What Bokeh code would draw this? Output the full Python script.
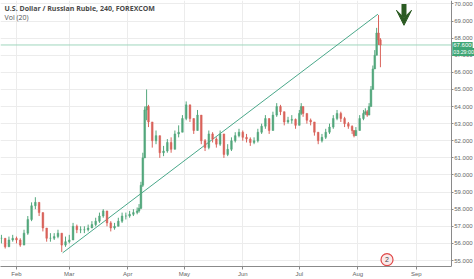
from datetime import datetime, timedelta
from bokeh.plotting import figure
from bokeh.models import (ColumnDataSource, Range1d, DatetimeTickFormatter, MonthsTicker,
                          FixedTicker, Span, Label, Arrow, VeeHead, BoxAnnotation)
from bokeh.embed import file_html
from bokeh.resources import INLINE

# ---------------- data ----------------
dates = ["2018-01-24", "2018-01-26", "2018-01-28", "2018-01-30", "2018-02-01", "2018-02-03",
         "2018-02-05", "2018-02-07", "2018-02-09", "2018-02-11", "2018-02-13", "2018-02-15",
         "2018-02-17", "2018-02-19", "2018-02-21", "2018-02-23", "2018-02-25", "2018-02-27",
         "2018-03-01", "2018-03-03", "2018-03-05", "2018-03-07", "2018-03-09", "2018-03-11",
         "2018-03-13", "2018-03-15", "2018-03-17", "2018-03-19", "2018-03-21", "2018-03-23",
         "2018-03-25", "2018-03-27", "2018-03-29", "2018-03-31", "2018-04-02", "2018-04-04",
         "2018-04-06", "2018-04-07", "2018-04-08", "2018-04-09", "2018-04-10", "2018-04-11",
         "2018-04-12", "2018-04-14", "2018-04-16", "2018-04-18", "2018-04-20", "2018-04-22",
         "2018-04-24", "2018-04-26", "2018-04-28", "2018-04-30", "2018-05-02", "2018-05-04",
         "2018-05-06", "2018-05-08", "2018-05-10", "2018-05-12", "2018-05-14", "2018-05-16",
         "2018-05-18", "2018-05-20", "2018-05-22", "2018-05-24", "2018-05-26", "2018-05-28",
         "2018-05-30", "2018-06-01", "2018-06-03", "2018-06-05", "2018-06-07", "2018-06-09",
         "2018-06-11", "2018-06-13", "2018-06-15", "2018-06-17", "2018-06-19", "2018-06-21",
         "2018-06-23", "2018-06-25", "2018-06-27", "2018-06-29", "2018-07-01", "2018-07-02",
         "2018-07-03", "2018-07-05", "2018-07-07", "2018-07-09", "2018-07-11", "2018-07-13",
         "2018-07-15", "2018-07-17", "2018-07-19", "2018-07-21", "2018-07-23", "2018-07-25",
         "2018-07-27", "2018-07-29", "2018-07-30", "2018-07-31", "2018-08-02", "2018-08-04",
         "2018-08-05", "2018-08-06", "2018-08-07", "2018-08-08", "2018-08-09", "2018-08-10",
         "2018-08-11", "2018-08-12", "2018-08-13"]

closes = [56.3, 55.8, 56.2, 56.3, 56.2, 55.9, 56.6, 57.4, 58.2, 58.4, 57.8, 56.9,
          56.3, 56.3, 56.4, 56.6, 55.9, 56.1, 56.2, 57.0, 56.8, 56.8, 56.8, 56.9,
          57.1, 57.3, 57.6, 57.9, 57.2, 56.9, 57.0, 57.3, 57.6, 57.6, 57.7, 57.8,
          57.9, 58.05, 59.4, 61.0, 63.8, 64.0, 63.1, 62.0, 62.3, 61.3, 61.4, 61.9,
          61.5, 62.4, 62.5, 63.3, 64.1, 63.3, 62.6, 63.5, 62.0, 61.6, 62.4, 62.1,
          61.8, 62.4, 61.2, 61.5, 62.0, 62.3, 62.5, 62.2, 62.1, 61.9, 62.0, 62.5,
          62.85, 63.3, 62.6, 63.5, 64.0, 63.7, 63.1, 63.2, 63.25, 62.9, 63.6, 64.0,
          63.6, 63.2, 63.1, 62.5, 62.0, 62.2, 62.5, 62.8, 63.3, 63.6, 63.3, 63.0,
          62.85, 62.6, 62.3, 62.6, 63.3, 63.6, 63.7, 63.5, 64.0, 65.0, 66.2, 67.0,
          68.3, 67.9, 67.6]

highs = [56.5, 56.3, 56.4, 56.5, 56.4, 56.3, 56.8, 57.6, 58.4, 58.7, 58.3, 57.8,
         56.9, 56.6, 56.6, 56.8, 56.6, 56.4, 56.5, 57.2, 57.1, 57.0, 57.0, 57.1,
         57.3, 57.5, 57.8, 58.0, 57.9, 57.3, 57.2, 57.5, 57.8, 57.8, 57.9, 58.0,
         58.1, 58.3, 59.6, 61.3, 64.0, 65.0, 64.1, 63.0, 62.6, 62.3, 61.7, 62.1,
         62.2, 62.6, 62.9, 63.5, 64.3, 64.1, 63.3, 63.8, 63.5, 62.1, 62.6, 62.5,
         62.2, 62.6, 62.4, 61.8, 62.2, 62.5, 62.7, 62.6, 62.4, 62.2, 62.2, 62.7,
         63.0, 63.5, 63.3, 63.7, 64.2, 64.1, 63.7, 63.4, 63.5, 63.3, 63.8, 64.2,
         64.0, 63.6, 63.3, 63.1, 62.5, 62.4, 62.7, 63.0, 63.5, 63.8, 63.7, 63.4,
         63.1, 62.9, 62.6, 62.8, 63.5, 63.8, 63.9, 63.8, 64.2, 65.2, 66.4, 67.3,
         68.6, 69.35, 68.0]

lows = [56.0, 55.7, 55.8, 56.1, 56.0, 55.8, 55.9, 56.5, 57.3, 58.0, 57.6, 56.7,
        56.1, 56.1, 56.2, 56.3, 55.5, 55.8, 56.0, 56.2, 56.6, 56.6, 56.6, 56.7,
        56.9, 57.0, 57.2, 57.5, 57.0, 56.7, 56.8, 57.0, 57.2, 57.4, 57.5, 57.6,
        57.7, 57.8, 58.0, 59.3, 61.0, 63.2, 62.8, 61.6, 61.8, 61.0, 61.1, 61.3,
        61.3, 61.5, 62.2, 62.5, 63.2, 63.1, 62.4, 62.6, 61.8, 61.4, 61.5, 61.9,
        61.6, 61.7, 61.0, 61.1, 61.4, 61.9, 62.2, 62.0, 61.9, 61.7, 61.8, 61.9,
        62.4, 62.7, 62.4, 62.6, 63.4, 63.5, 62.9, 63.0, 63.0, 62.7, 62.9, 63.5,
        63.4, 63.0, 62.9, 62.3, 61.8, 61.9, 62.1, 62.4, 62.7, 63.2, 63.1, 62.8,
        62.7, 62.4, 62.2, 62.3, 62.6, 63.2, 63.5, 63.4, 63.5, 64.0, 65.0, 66.2,
        67.0, 67.6, 66.3]

trend_dates = ["2018-02-25 12:00", "2018-08-11 16:00"]
trend_prices = [55.45, 69.4]

last_price = 67.6
last_price_text = "67.600"
countdown_text = "03:29:00"

y_ticks = [55, 56, 57, 58, 59, 60, 61, 62, 63, 64, 65, 66, 67, 68, 69, 70]
y_tick_labels = ["55.000", "56.000", "57.000", "58.000", "59.000", "60.000", "61.000", "62.000",
                 "63.000", "64.000", "65.000", "66.000", "67.000", "68.000", "69.000", "70.000"]

arrow_date = "2018-08-25 12:00"
arrow_from = 70.0
arrow_to = 68.75

event_dates = ["2018-08-16 12:00"]
event_prices = [55.05]
event_labels = ["2"]

title_text = "U.S. Dollar / Russian Ruble, 240, FOREXCOM"
vol_text = "Vol (20)"

# ---------------- build ----------------
def ts(s):
    return datetime.fromisoformat(s)

def ms(d):
    return (d - datetime(1970, 1, 1)).total_seconds() * 1000.0

dts = [ts(d) for d in dates]
opens = [closes[0]] + closes[:-1]
UP, DOWN = "#53a77c", "#d9625a"
colors = [UP if c >= o else DOWN for o, c in zip(opens, closes)]
tops = [max(o, c) for o, c in zip(opens, closes)]
bots = [min(o, c) for o, c in zip(opens, closes)]
src = ColumnDataSource(dict(x=dts, hi=highs, lo=lows, top=tops, bot=bots, color=colors))

x_start = datetime(2018, 1, 23, 12, 30)
x_end = datetime(2018, 10, 1, 21, 30)
axis_at = datetime(2018, 9, 19, 14, 0)   # where the price scale begins

p = figure(width=474, height=279, x_axis_type="datetime", y_axis_location="right",
           toolbar_location=None, output_backend="svg",
           x_range=Range1d(x_start, x_end), y_range=Range1d(54.65, 70.2),
           min_border_left=0, min_border_top=0, min_border_right=0, min_border_bottom=0)
p.background_fill_color = "white"
p.border_fill_color = "white"
p.outline_line_color = None

FONT = "Liberation Sans"
# y axis (price scale)
p.yaxis.fixed_location = ms(axis_at)
p.yaxis.ticker = FixedTicker(ticks=y_ticks)
p.yaxis.major_label_overrides = {t: l for t, l in zip(y_ticks, y_tick_labels)}
p.yaxis.major_label_text_font_size = "6px"
p.yaxis.major_label_text_color = "#666666"
p.yaxis.major_label_text_font = FONT
p.yaxis.major_label_standoff = 1
p.yaxis.major_tick_out = 2
p.yaxis.major_tick_in = 0
p.yaxis.minor_tick_out = 0
p.yaxis.minor_tick_in = 0
p.yaxis.axis_line_color = "#8a8a8a"
p.yaxis.major_tick_line_color = "#8a8a8a"
# x axis
p.xaxis.ticker = MonthsTicker(months=list(range(12)))
p.xaxis.formatter = DatetimeTickFormatter(months="%b", days="%b")
p.xaxis.bounds = (ms(x_start), ms(axis_at))
p.xaxis.major_label_text_font_size = "6px"
p.xaxis.major_label_text_color = "#666666"
p.xaxis.major_label_text_font = FONT
p.xaxis.major_label_standoff = 1
p.xaxis.major_tick_out = 3
p.xaxis.major_tick_in = 0
p.xaxis.minor_tick_out = 0
p.xaxis.minor_tick_in = 0
p.xaxis.axis_line_color = "#8a8a8a"
p.xaxis.major_tick_line_color = "#8a8a8a"

p.xgrid.grid_line_color = "#ececec"
p.ygrid.grid_line_color = "#ececec"

# current price line
p.add_layout(Span(location=last_price, dimension="width", line_color="#9fd6bd",
                  line_width=1, level="underlay"))

# trend line
p.line([ts(d) for d in trend_dates], trend_prices, line_color="#4aa88a", line_width=1)

# candles
day_ms = 24 * 3600 * 1000
p.segment(x0="x", y0="hi", x1="x", y1="lo", color="color", line_width=1, source=src)
p.vbar(x="x", width=day_ms * 0.9, top="top", bottom="bot", fill_color="color",
       line_color="color", line_width=0.5, source=src)

# blank the price-scale strip
p.add_layout(BoxAnnotation(left=ms(axis_at), fill_color="white", fill_alpha=1.0,
                           line_alpha=0, level="glyph"))

# arrow annotation
p.add_layout(Arrow(x_start=ts(arrow_date), y_start=arrow_from, x_end=ts(arrow_date), y_end=arrow_to,
                   line_color="#2b5a22", line_width=5,
                   end=VeeHead(size=15, fill_color="#2b5a22", line_color="#2b5a22", line_width=1)))

# event marker
ex = [ts(d) for d in event_dates]
p.scatter(ex, event_prices, marker="circle", size=12, fill_color="#fbeaea",
          line_color="#e04848", line_width=1.2)
p.text(ex, event_prices, text=event_labels, text_font_size="7px", text_align="center",
       text_baseline="middle", text_color="#444444")

# price labels on the price scale
p.add_layout(Label(x=axis_at, y=last_price, x_offset=1, y_offset=-3, text=last_price_text,
                   text_font_size="6px", text_color="white", text_font=FONT, level="overlay",
                   text_baseline="bottom", background_fill_color="#3fa676", padding=1))
p.add_layout(Label(x=axis_at, y=last_price, x_offset=1, y_offset=-11, text=countdown_text,
                   text_font_size="5.3px", text_color="white", text_font=FONT, level="overlay",
                   text_baseline="bottom", background_fill_color="#3fa676", padding=1))

# titles
p.add_layout(Label(x=x_start, y=70.2, x_offset=4, y_offset=-3, text=title_text,
                   text_font_size="7px", text_font_style="bold", text_color="#4a4a4a",
                   text_font="Open Sans", text_baseline="top"))
p.add_layout(Label(x=x_start, y=70.2, x_offset=4, y_offset=-12, text=vol_text,
                   text_font_size="7px", text_color="#555555",
                   text_font="Open Sans", text_baseline="top"))

open("out.html", "w").write(file_html(p, INLINE))
